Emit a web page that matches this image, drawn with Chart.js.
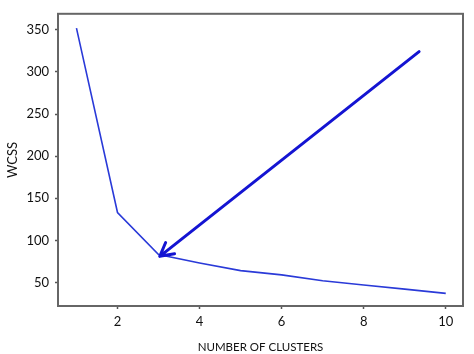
<!DOCTYPE html>
<html>
<head>
<meta charset="utf-8">
<script src="https://cdn.jsdelivr.net/npm/chart.js@4"></script>
<style>
  html, body { margin: 0; padding: 0; background: #fff; }
  #box { width: 474px; height: 354px; }
</style>
</head>
<body>
<div id="box"><canvas id="grafica"></canvas></div>
<script>
// Datos del gráfico del codo
const clusters = [1, 2, 3, 4, 5, 6, 7, 8, 9, 10];
const wcss = [352, 133, 83, 73, 64, 59, 52, 47, 42, 37];

// Marcas de los ejes
const ticksX = [2, 4, 6, 8, 10];
const ticksY = [50, 100, 150, 200, 250, 300, 350];

// Flecha que señala el codo (inicio -> punta)
const flechaX = [9.35, 3.03];
const flechaY = [324, 81];

// Caja alrededor del área del gráfico
const cajaPlugin = {
  id: 'caja',
  afterDraw(chart) {
    const { ctx, chartArea: a } = chart;
    ctx.save();
    ctx.strokeStyle = '#666';
    ctx.lineWidth = 2;
    ctx.strokeRect(a.left, a.top, a.right - a.left, a.bottom - a.top);
    ctx.restore();
  }
};

// Dibuja la flecha usando las escalas del gráfico
const flechaPlugin = {
  id: 'flecha',
  afterDatasetsDraw(chart) {
    const { ctx, scales } = chart;
    const x1 = scales.x.getPixelForValue(flechaX[0]);
    const y1 = scales.y.getPixelForValue(flechaY[0]);
    const x2 = scales.x.getPixelForValue(flechaX[1]);
    const y2 = scales.y.getPixelForValue(flechaY[1]);
    const ang = Math.atan2(y2 - y1, x2 - x1);
    const largo = 15;
    ctx.save();
    ctx.strokeStyle = '#1414d2';
    ctx.lineWidth = 3;
    ctx.lineCap = 'round';
    ctx.lineJoin = 'round';
    ctx.beginPath();
    ctx.moveTo(x1, y1);
    ctx.lineTo(x2, y2);
    ctx.moveTo(x2 - largo * Math.cos(ang - 0.5), y2 - largo * Math.sin(ang - 0.5));
    ctx.lineTo(x2, y2);
    ctx.lineTo(x2 - largo * Math.cos(ang + 0.5), y2 - largo * Math.sin(ang + 0.5));
    ctx.stroke();
    ctx.restore();
  }
};

const fuente = { family: 'Lato, "Open Sans", sans-serif', size: 13 };

new Chart(document.getElementById('grafica'), {
  type: 'line',
  data: {
    datasets: [{
      data: clusters.map((c, i) => ({ x: c, y: wcss[i] })),
      borderColor: '#2a3ad8',
      borderWidth: 1.6,
      pointRadius: 0,
      tension: 0,
      fill: false
    }]
  },
  options: {
    responsive: true,
    maintainAspectRatio: false,
    animation: false,
    layout: { padding: { top: 8, right: 11, left: 5, bottom: 0 } },
    plugins: { legend: { display: false }, tooltip: { enabled: false } },
    scales: {
      x: {
        type: 'linear',
        min: 0.55,
        max: 10.42,
        afterBuildTicks: (s) => { s.ticks = ticksX.map(v => ({ value: v })); },
        afterFit: (s) => { s.height = 48; },
        grid: { drawOnChartArea: false, tickLength: 3, color: '#555', tickWidth: 1.5 },
        border: { display: false },
        ticks: { color: '#111', font: fuente, padding: 5 },
        title: {
          display: true,
          text: 'NUMBER OF CLUSTERS',
          color: '#111',
          font: { family: 'Lato, "Open Sans", sans-serif', size: 11.5 },
          padding: { top: 5, bottom: 0 }
        }
      },
      y: {
        min: 22,
        max: 369,
        afterBuildTicks: (s) => { s.ticks = ticksY.map(v => ({ value: v })); },
        afterFit: (s) => { s.width = 53; },
        grid: { drawOnChartArea: false, tickLength: 3, color: '#555', tickWidth: 1.5 },
        border: { display: false },
        ticks: { color: '#111', font: fuente, padding: 6 },
        title: {
          display: true,
          text: 'WCSS',
          color: '#111',
          font: { family: 'Lato, "Open Sans", sans-serif', size: 13 },
          padding: { top: 0, bottom: 0 }
        }
      }
    }
  },
  plugins: [cajaPlugin, flechaPlugin]
});
</script>
</body>
</html>
